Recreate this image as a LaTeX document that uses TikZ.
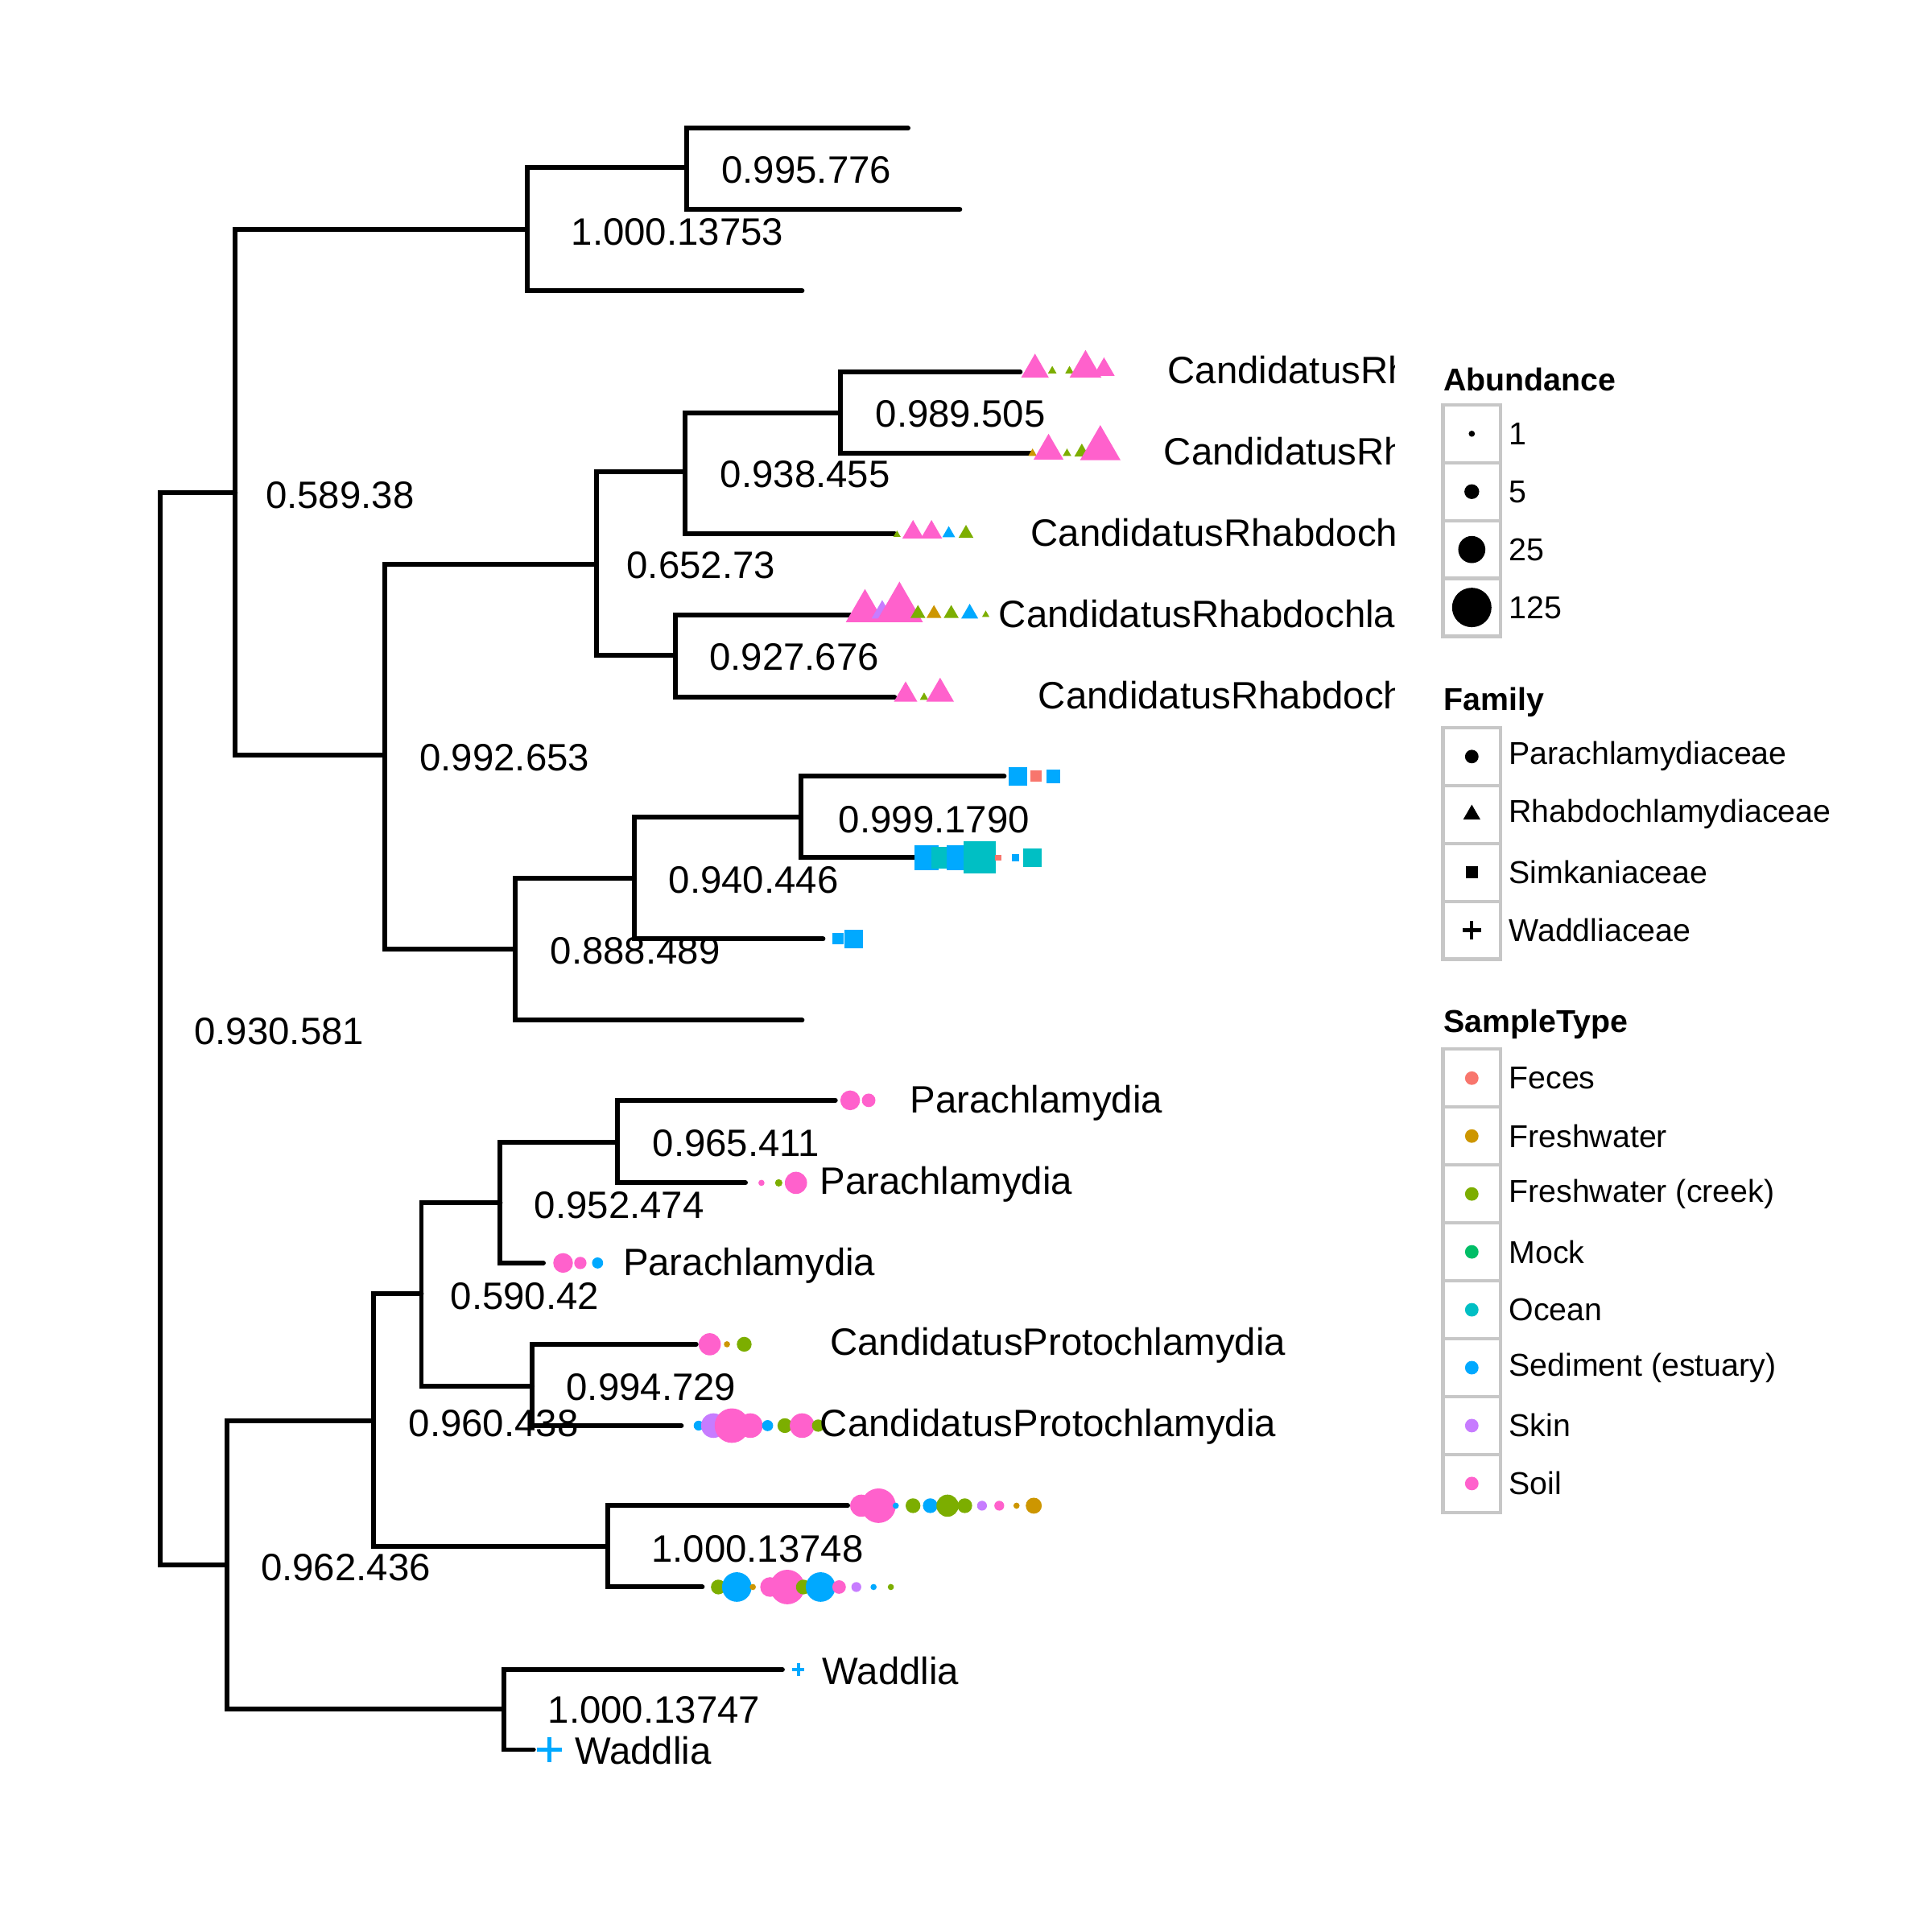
\documentclass[tikz,border=0pt]{standalone}
\usepackage{fontspec}
\setmainfont{Liberation Sans}
\usetikzlibrary{shapes.geometric}
\definecolor{cFe}{HTML}{F8766D}\definecolor{cFw}{HTML}{CD9600}\definecolor{cCr}{HTML}{7CAE00}
\definecolor{cMo}{HTML}{00BE67}\definecolor{cOc}{HTML}{00BFC4}\definecolor{cSe}{HTML}{00A9FF}
\definecolor{cSk}{HTML}{C77CFF}\definecolor{cSo}{HTML}{FF61CC}
\tikzset{br/.style={line width=1.1pt,line cap=round,line join=miter},
 lab/.style={anchor=west,font=\fontsize{8.8}{9}\selectfont,inner sep=0},
 tri/.style={regular polygon,regular polygon sides=3,inner sep=0,draw=none},
 cir/.style={circle,inner sep=0,draw=none},
 sqr/.style={rectangle,inner sep=0,draw=none},
 leg/.style={anchor=west,font=\fontsize{7.3}{8}\selectfont,inner sep=0},
 legt/.style={anchor=west,font=\bfseries\fontsize{7.3}{8}\selectfont,inner sep=0},
 cell/.style={draw=black!22,line width=0.8pt}}
\newcommand\mk[4]{\node[#1,fill=#4,minimum size=#3*0.01cm] at (#2) {};}
% clade: x, y1, y2, xend1, xend2
\newcommand\cl[5]{\draw[br] (#4,#2) -- (#1,#2) -- (#1,#3) -- (#5,#3);}
\begin{document}
\begin{tikzpicture}[x=0.01cm,y=-0.01cm]
\useasboundingbox (0,0) rectangle (1568,1568);
% tree
\cl{130}{400}{1270}{191}{184}
\cl{191}{186}{613}{428}{312}
\cl{428}{136}{236}{557}{651}
\cl{557}{104}{170}{737}{779}
\cl{312}{458}{770}{484}{418}
\cl{484}{383}{532}{556}{548}
\cl{556}{335}{433}{682}{726}
\cl{682}{302}{368}{828}{838}
\cl{548}{499}{566}{690}{726}
\cl{418}{713}{828}{515}{651}
\cl{515}{663}{762}{650}{668}
\cl{650}{630}{696}{815}{745}
\cl{184}{1153}{1387}{303}{409}
\cl{303}{1050}{1255}{342}{493}
\cl{342}{976}{1125}{406}{432}
\cl{406}{927}{1025}{501}{441}
\cl{501}{893}{960}{678}{605}
\cl{432}{1091}{1157}{565}{553}
\cl{493}{1222}{1288}{688}{570}
\cl{409}{1355}{1420}{635}{433}
% node labels
\node[lab] (l1) at (585,138) {0.995.776};
\node[lab] (l2) at (463,188) {1.000.13753};
\node[lab] (l3) at (215,402) {0.589.38};
\node[lab] (l4) at (710,336) {0.989.505};
\node[lab] (l5) at (584,385) {0.938.455};
\node[lab] (l6) at (508,459) {0.652.73};
\node[lab] (l7) at (575,533) {0.927.676};
\node[lab] (l8) at (340,615) {0.992.653};
\node[lab] (l9) at (680,665) {0.999.1790};
\node[lab] (l10) at (542,714) {0.940.446};
\node[lab] (l11) at (446,772) {0.888.489};
\node[lab] (l12) at (157,837) {0.930.581};
\node[lab] (l13) at (529,928) {0.965.411};
\node[lab] (l14) at (433,978) {0.952.474};
\node[lab] (l15) at (365,1052) {0.590.42};
\node[lab] (l16) at (459,1126) {0.994.729};
\node[lab] (l17) at (331,1155) {0.960.438};
\node[lab] (l18) at (528,1257) {1.000.13748};
\node[lab] (l19) at (211,1272) {0.962.436};
\node[lab] (l20) at (444,1388) {1.000.13747};
% markers
\mk{tri}{840,300}{26}{cSo}\mk{tri}{854,301}{8}{cCr}\mk{tri}{868,301}{8}{cCr}\mk{tri}{881,299}{30}{cSo}\mk{tri}{896,300}{20}{cSo}
\mk{tri}{838,368}{8}{cFw}\mk{tri}{851,366}{28}{cSo}\mk{tri}{866,368}{8}{cCr}\mk{tri}{878,367}{14}{cCr}\mk{tri}{893,364}{38}{cSo}
\mk{tri}{728,434}{7}{cCr}\mk{tri}{741,432}{20}{cSo}\mk{tri}{756,432}{20}{cSo}\mk{tri}{770,433}{12}{cSe}\mk{tri}{784,433}{14}{cCr}
\mk{tri}{702,496}{36}{cSo}\mk{tri}{716,497}{20}{cSk}\mk{tri}{730,494}{44}{cSo}\mk{tri}{745,498}{14}{cCr}\mk{tri}{758,498}{14}{cFw}\mk{tri}{772,498}{14}{cCr}\mk{tri}{787,498}{16}{cSe}\mk{tri}{800,499}{7}{cCr}
\mk{tri}{735,564}{22}{cSo}\mk{tri}{750,566}{8}{cCr}\mk{tri}{763,563}{26}{cSo}
\mk{sqr}{826,630}{15}{cSe}\mk{sqr}{841,630}{9}{cFe}\mk{sqr}{855,630}{11}{cSe}
\mk{sqr}{752,696}{20}{cSe}\mk{sqr}{765,696}{18}{cOc}\mk{sqr}{778,696}{20}{cSe}\mk{sqr}{795,696}{26}{cOc}\mk{sqr}{810,696}{5}{cFe}\mk{sqr}{824,696}{6}{cSe}\mk{sqr}{838,696}{15}{cOc}
\mk{sqr}{680,762}{9}{cSe}\mk{sqr}{693,762}{15}{cSe}
\mk{cir}{690,893}{16}{cSo}\mk{cir}{705,893}{11}{cSo}
\mk{cir}{618,960}{5}{cSo}\mk{cir}{632,960}{6}{cCr}\mk{cir}{646,960}{18}{cSo}
\mk{cir}{457,1025}{16}{cSo}\mk{cir}{471,1025}{10}{cSo}\mk{cir}{485,1025}{9}{cSe}
\mk{cir}{576,1091}{18}{cSo}\mk{cir}{590,1091}{5}{cFw}\mk{cir}{604,1091}{12}{cCr}
\mk{cir}{567,1157}{8}{cSe}\mk{cir}{579,1157}{20}{cSk}\mk{cir}{609,1157}{20}{cSo}\mk{cir}{594,1157}{28}{cSo}\mk{cir}{623,1157}{9}{cSe}\mk{cir}{637,1157}{12}{cCr}\mk{cir}{651,1157}{20}{cSo}\mk{cir}{664,1157}{10}{cCr}
\mk{cir}{699,1222}{18}{cSo}\mk{cir}{713,1222}{28}{cSo}\mk{cir}{727,1222}{5}{cSe}\mk{cir}{741,1222}{12}{cCr}\mk{cir}{755,1222}{12}{cSe}\mk{cir}{769,1222}{18}{cCr}\mk{cir}{783,1222}{12}{cCr}\mk{cir}{797,1222}{8}{cSk}\mk{cir}{811,1222}{8}{cSo}\mk{cir}{825,1222}{5}{cFw}\mk{cir}{839,1222}{13}{cFw}
\mk{cir}{583,1288}{12}{cCr}\mk{cir}{598,1288}{24}{cSe}\mk{cir}{611,1288}{5}{cFw}\mk{cir}{625,1288}{16}{cSo}\mk{cir}{639,1288}{28}{cSo}\mk{cir}{652,1288}{12}{cCr}\mk{cir}{666,1288}{24}{cSe}\mk{cir}{681,1288}{11}{cSo}\mk{cir}{695,1288}{8}{cSk}\mk{cir}{709,1288}{5}{cSe}\mk{cir}{723,1288}{5}{cCr}
\draw[cSe,line width=0.7pt] (643,1355)--(653,1355) (648,1350)--(648,1360);
\draw[cSe,line width=0.9pt] (436,1420)--(456,1420) (446,1410)--(446,1430);
% tip labels
\begin{scope}
\clip (0,0) rectangle (1132,1568);
\node[lab] (t1) at (947,303) {CandidatusRhabdochlamydia};
\node[lab] (t2) at (944,369) {CandidatusRhabdochlamydia};
\node[lab] (t3) at (836,435) {CandidatusRhabdochlamydia};
\node[lab] (t4) at (810,501) {CandidatusRhabdochlamydia};
\node[lab] (t5) at (842,567) {CandidatusRhabdochlamydia};
\end{scope}
\node[lab] (t6) at (738,895) {Parachlamydia};
\node[lab] (t7) at (665,961) {Parachlamydia};
\node[lab] (t8) at (505,1027) {Parachlamydia};
\node[lab] (t9) at (673,1092) {CandidatusProtochlamydia};
\node[lab] (t10) at (665,1158) {CandidatusProtochlamydia};
\node[lab] (t11) at (667,1356) {Waddlia};
\node[lab] (t12) at (466,1421) {Waddlia};
% legends
\node[legt] (g1) at (1171,308) {Abundance};
\foreach \y/\d/\t in {352/5/1,399/12/5,446/22/25,493/32/125}{
 \draw[cell] (1171,\y-23.5) rectangle (1218,\y+23.5);
 \mk{cir}{1194.5,\y}{\d}{black}
 \node[leg] at (1224,\y) {\t};}
\node[legt] (g2) at (1171,570) {Family};
\foreach \y in {614,661,708,755}{\draw[cell] (1171,\y-23.5) rectangle (1218,\y+23.5);}
\mk{cir}{1194.5,614}{11}{black}\node[leg] at (1224,614) {Parachlamydiaceae};
\mk{tri}{1194.5,661}{16}{black}\node[leg] at (1224,661) {Rhabdochlamydiaceae};
\mk{sqr}{1194.5,708}{10}{black}\node[leg] at (1224,708) {Simkaniaceae};
\draw[line width=0.8pt] (1187,755)--(1202,755) (1194.5,747.5)--(1194.5,762.5);\node[leg] at (1224,755) {Waddliaceae};
\node[legt] (g3) at (1171,831) {SampleType};
\foreach \y/\c/\t in {875/cFe/Feces,922/cFw/Freshwater,969/cCr/Freshwater (creek),1016/cMo/Mock,1063/cOc/Ocean,1110/cSe/Sediment (estuary),1157/cSk/Skin,1204/cSo/Soil}{
 \draw[cell] (1171,\y-23.5) rectangle (1218,\y+23.5);
 \mk{cir}{1194.5,\y}{11}{\c}
 \node[leg] at (1224,\y) {\t};}
\end{tikzpicture}
\end{document}
